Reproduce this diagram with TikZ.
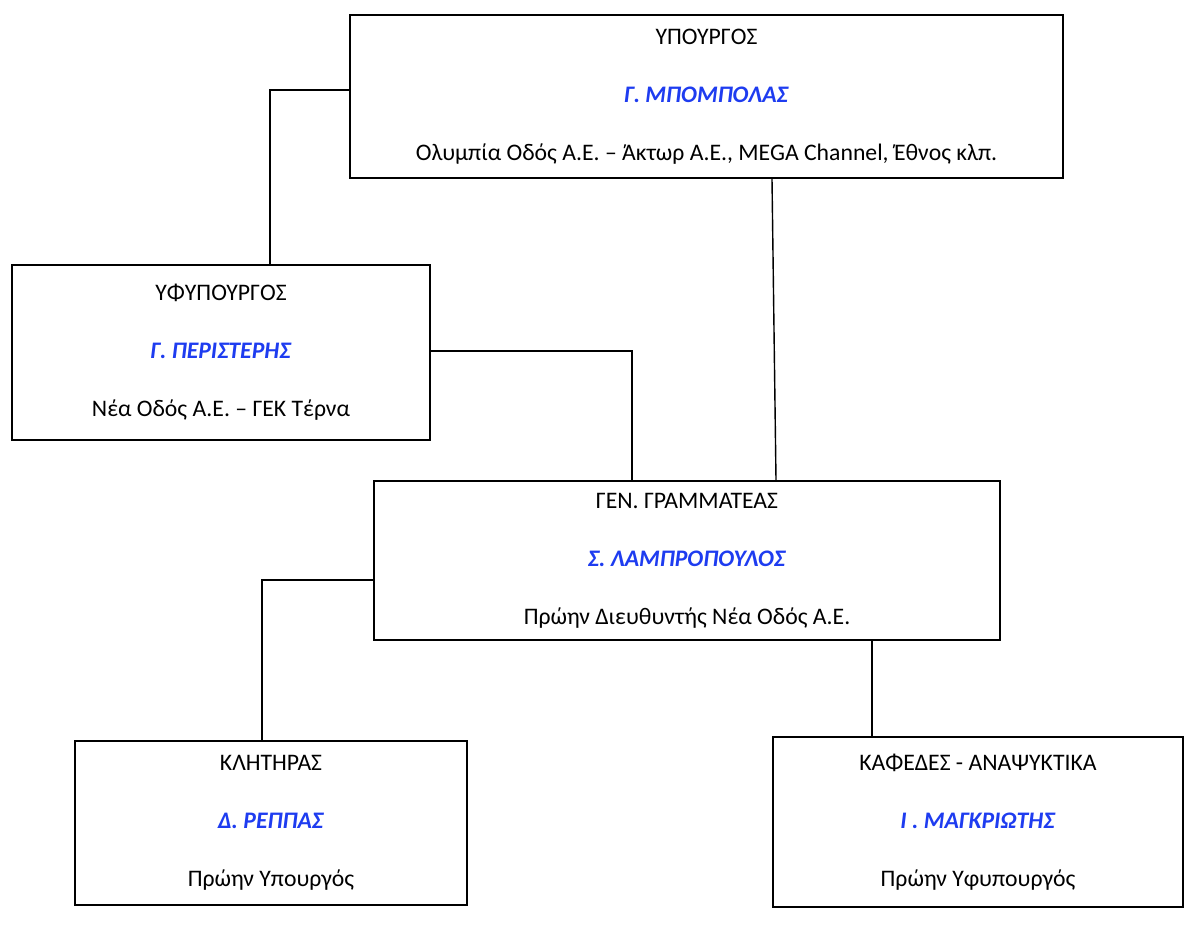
\documentclass[tikz,border=0pt]{standalone}
\usepackage{fontspec}
\setmainfont{Carlito}
\definecolor{nameblue}{RGB}{30,60,240}
\tikzset{
  post/.style={draw, line width=1.4pt, align=center, inner sep=0pt,
    font=\fontsize{13.5}{33}\selectfont},
  link/.style={line width=0.8pt},
}
\newcommand{\who}[1]{\textcolor{nameblue}{\textbf{\textit{#1}}}}
\begin{document}
\begin{tikzpicture}[x=0.02cm,y=-0.02cm]
  \useasboundingbox (0,0) rectangle (1200,925);
  % boxes
  \node[post, minimum width=713*0.02cm, minimum height=163*0.02cm] (min) at (706.5,96.5)
    {ΥΠΟΥΡΓΟΣ\\ \who{Γ. ΜΠΟΜΠΟΛΑΣ}\\ Ολυμπία Οδός Α.Ε. – Άκτωρ Α.Ε., MEGA Channel, Έθνος κλπ.};
  \node[post, minimum width=418*0.02cm, minimum height=175*0.02cm] (dep) at (221,352.5)
    {ΥΦΥΠΟΥΡΓΟΣ\\ \who{Γ. ΠΕΡΙΣΤΕΡΗΣ}\\ Νέα Οδός Α.Ε. – ΓΕΚ Τέρνα};
  \node[post, minimum width=626*0.02cm, minimum height=159*0.02cm] (sec) at (687,560.5)
    {ΓΕΝ. ΓΡΑΜΜΑΤΕΑΣ\\ \who{Σ. ΛΑΜΠΡΟΠΟΥΛΟΣ}\\ Πρώην Διευθυντής Νέα Οδός Α.Ε.};
  \node[post, minimum width=392*0.02cm, minimum height=164*0.02cm] (klit) at (271,823)
    {ΚΛΗΤΗΡΑΣ\\ \who{Δ. ΡΕΠΠΑΣ}\\ Πρώην Υπουργός};
  \node[post, minimum width=410*0.02cm, minimum height=170*0.02cm] (kaf) at (978,822)
    {ΚΑΦΕΔΕΣ - ΑΝΑΨΥΚΤΙΚΑ\\ \who{Ι . ΜΑΓΚΡΙΩΤΗΣ}\\ Πρώην Υφυπουργός};
  % links
  \draw[link] (min.west |- 0,90) -| (dep.north -| 270,0);
  \draw[link] (min.south -| 772,0) -- (sec.north -| 776,0);
  \draw[link] (dep.east |- 0,351) -| (sec.north -| 632,0);
  \draw[link] (sec.west |- 0,580) -| (klit.north -| 262,0);
  \draw[link] (sec.south -| 872,0) -- (kaf.north -| 872,0);
\end{tikzpicture}
\end{document}
